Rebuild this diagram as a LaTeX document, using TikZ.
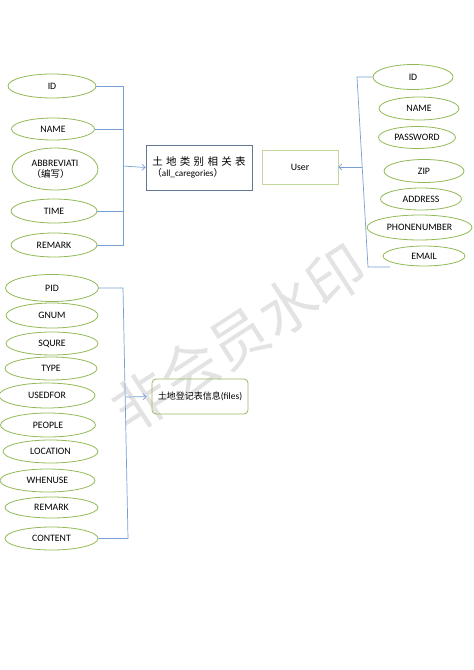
\documentclass[tikz,border=0pt]{standalone}
\usepackage{fontspec}
\setmainfont{Carlito}
\newfontfamily\cjk{Noto Sans CJK SC}
\usepackage{xcolor}
\usepackage{tikz}
\usetikzlibrary{positioning,arrows.meta,shapes.geometric}

\definecolor{attrgreen}{RGB}{145,185,85}
\definecolor{palegreen}{RGB}{195,214,155}
\definecolor{boxgreen}{RGB}{150,185,95}
\definecolor{linkblue}{RGB}{120,160,215}
\definecolor{catblue}{RGB}{95,120,150}

\begin{document}
\begin{tikzpicture}[x=1pt,y=-1pt,
        attr/.style={draw=attrgreen, line width=0.8pt, ellipse, inner sep=0pt, align=center, font=\fontsize{9.8}{11}\selectfont},
        lattr/.style={attr, minimum width=86pt, minimum height=24pt},
        fattr/.style={attr, minimum width=93pt, minimum height=24pt},
        rattr/.style={attr, minimum width=80pt, minimum height=23pt},
        entity/.style={draw, rectangle, line width=0.8pt, inner sep=0pt, align=center},
        link/.style={draw=linkblue, line width=0.7pt},
        feed/.style={link, -{Straight Barb[length=3pt,width=6pt]}}
    ]
        \useasboundingbox (0,0) rectangle (474,670);

        % Watermark
        \node[rotate=33, text=black!11, font=\cjk\fontsize{58}{58}\selectfont] (mark) at (239,338) {非会员水印};

        % --- Tables ---
        \node[entity, draw=catblue, minimum width=106pt, minimum height=45pt, align=left] (cat) at (199,167.5)
            {{\cjk\fontsize{10.5}{12}\selectfont 土\hspace{3.3pt}地\hspace{3.3pt}类\hspace{3.3pt}别\hspace{3.3pt}相\hspace{3.3pt}关\hspace{3.3pt}表}\\[-1pt]
             {\cjk\fontsize{9.5}{11}\selectfont （}{\fontsize{9.2}{11}\selectfont all\_caregories}{\cjk\fontsize{9.5}{11}\selectfont ）}};
        \node[entity, draw=palegreen, minimum width=76pt, minimum height=34pt, font=\fontsize{9.8}{11}\selectfont] (user) at (300,167) {User};
        \node[entity, draw=boxgreen, rounded corners=4pt, minimum width=96pt, minimum height=35pt] (files) at (200,396.5)
            {{\cjk\fontsize{9}{11}\selectfont 土地登记表信息}{\fontsize{9.5}{11}\selectfont (files)}};

        % --- Attributes of all_caregories ---
        \node[lattr, minimum width=88pt] (lid) at (52,86) {ID};
        \node[lattr, minimum width=83pt, minimum height=22pt] (lname) at (53,129) {NAME};
        \node[lattr, minimum height=42pt, align=left] (labbr) at (55,169) {ABBREVIATI\\{\cjk\fontsize{9.5}{11}\selectfont （编写）}};
        \node[lattr] (ltime) at (54,211) {TIME};
        \node[lattr] (lremark) at (54,245) {REMARK};

        % --- Attributes of User ---
        \node[rattr, minimum height=25pt] (rid) at (413,77) {ID};
        \node[rattr] (rname) at (419,108.5) {NAME};
        \node[rattr, minimum width=77pt, minimum height=22pt] (rpwd) at (417,137.5) {PASSWORD};
        \node[rattr] (rzip) at (424,171) {ZIP};
        \node[rattr, minimum width=81pt, minimum height=22pt] (raddr) at (421,199) {ADDRESS};
        \node[rattr, minimum width=105pt, minimum height=25pt] (rphone) at (419.5,227.5) {PHONENUMBER};
        \node[rattr, minimum width=82pt, minimum height=20pt] (remail) at (424,256) {EMAIL};

        % --- Attributes of files ---
        \node[fattr, minimum height=27pt] (pid) at (52,288) {PID};
        \node[fattr, minimum width=92pt, minimum height=25pt] (gnum) at (52,315.5) {GNUM};
        \node[fattr, minimum width=92pt, minimum height=23pt] (squre) at (52,343.5) {SQURE};
        \node[fattr, minimum width=92pt, minimum height=23pt] (type) at (51,368.5) {TYPE};
        \node[fattr, minimum width=96pt, minimum height=25pt] (usedfor) at (47,395.5) {USEDFOR};
        \node[fattr, minimum width=95pt] (people) at (48,425) {PEOPLE};
        \node[fattr, minimum width=95pt, minimum height=23pt] (location) at (50.5,451.5) {LOCATION};
        \node[fattr, minimum width=95pt, minimum height=23pt] (whenuse) at (47.5,480.5) {WHENUSE};
        \node[fattr, minimum height=21pt] (fremark) at (51.5,507.5) {REMARK};
        \node[fattr, minimum height=23pt] (content) at (51.5,538.5) {CONTENT};

        % Bus coordinates
        \coordinate (lbustop) at (123,86);
        \coordinate (lbusbot) at (123,245);
        \coordinate (lbusmid) at (123,166);
        \coordinate (rbustop) at (357,77);
        \coordinate (rbusbot) at (368,267);
        \coordinate (rbusend) at (390,267);
        \coordinate (rbusmid) at (362,167);
        \coordinate (fbustop) at (123,288);
        \coordinate (fbusbot) at (128,538.5);
        \coordinate (fbusmid) at (125.5,397);

        % --- Connectors ---
        \draw[link] (lid.east) -- (lbustop) -- (lbusbot) -- (lremark.east);
        \draw[link] (lname.east) -- (lname.east -| lbustop);
        \draw[link] (ltime.east) -- (ltime.east -| lbustop);
        \draw[feed] (lbusmid) -- (cat.west);

        \draw[link] (rid.west) -- (rbustop) -- (rbusbot) -- (rbusend);
        \draw[feed] (rbusmid) -- (user.east);

        \draw[link] (pid.east) -- (fbustop) -- (fbusbot) -- (content.east);
        \draw[feed, shorten >=5pt] (fbusmid) -- (files.west);
    \end{tikzpicture}
\end{document}
